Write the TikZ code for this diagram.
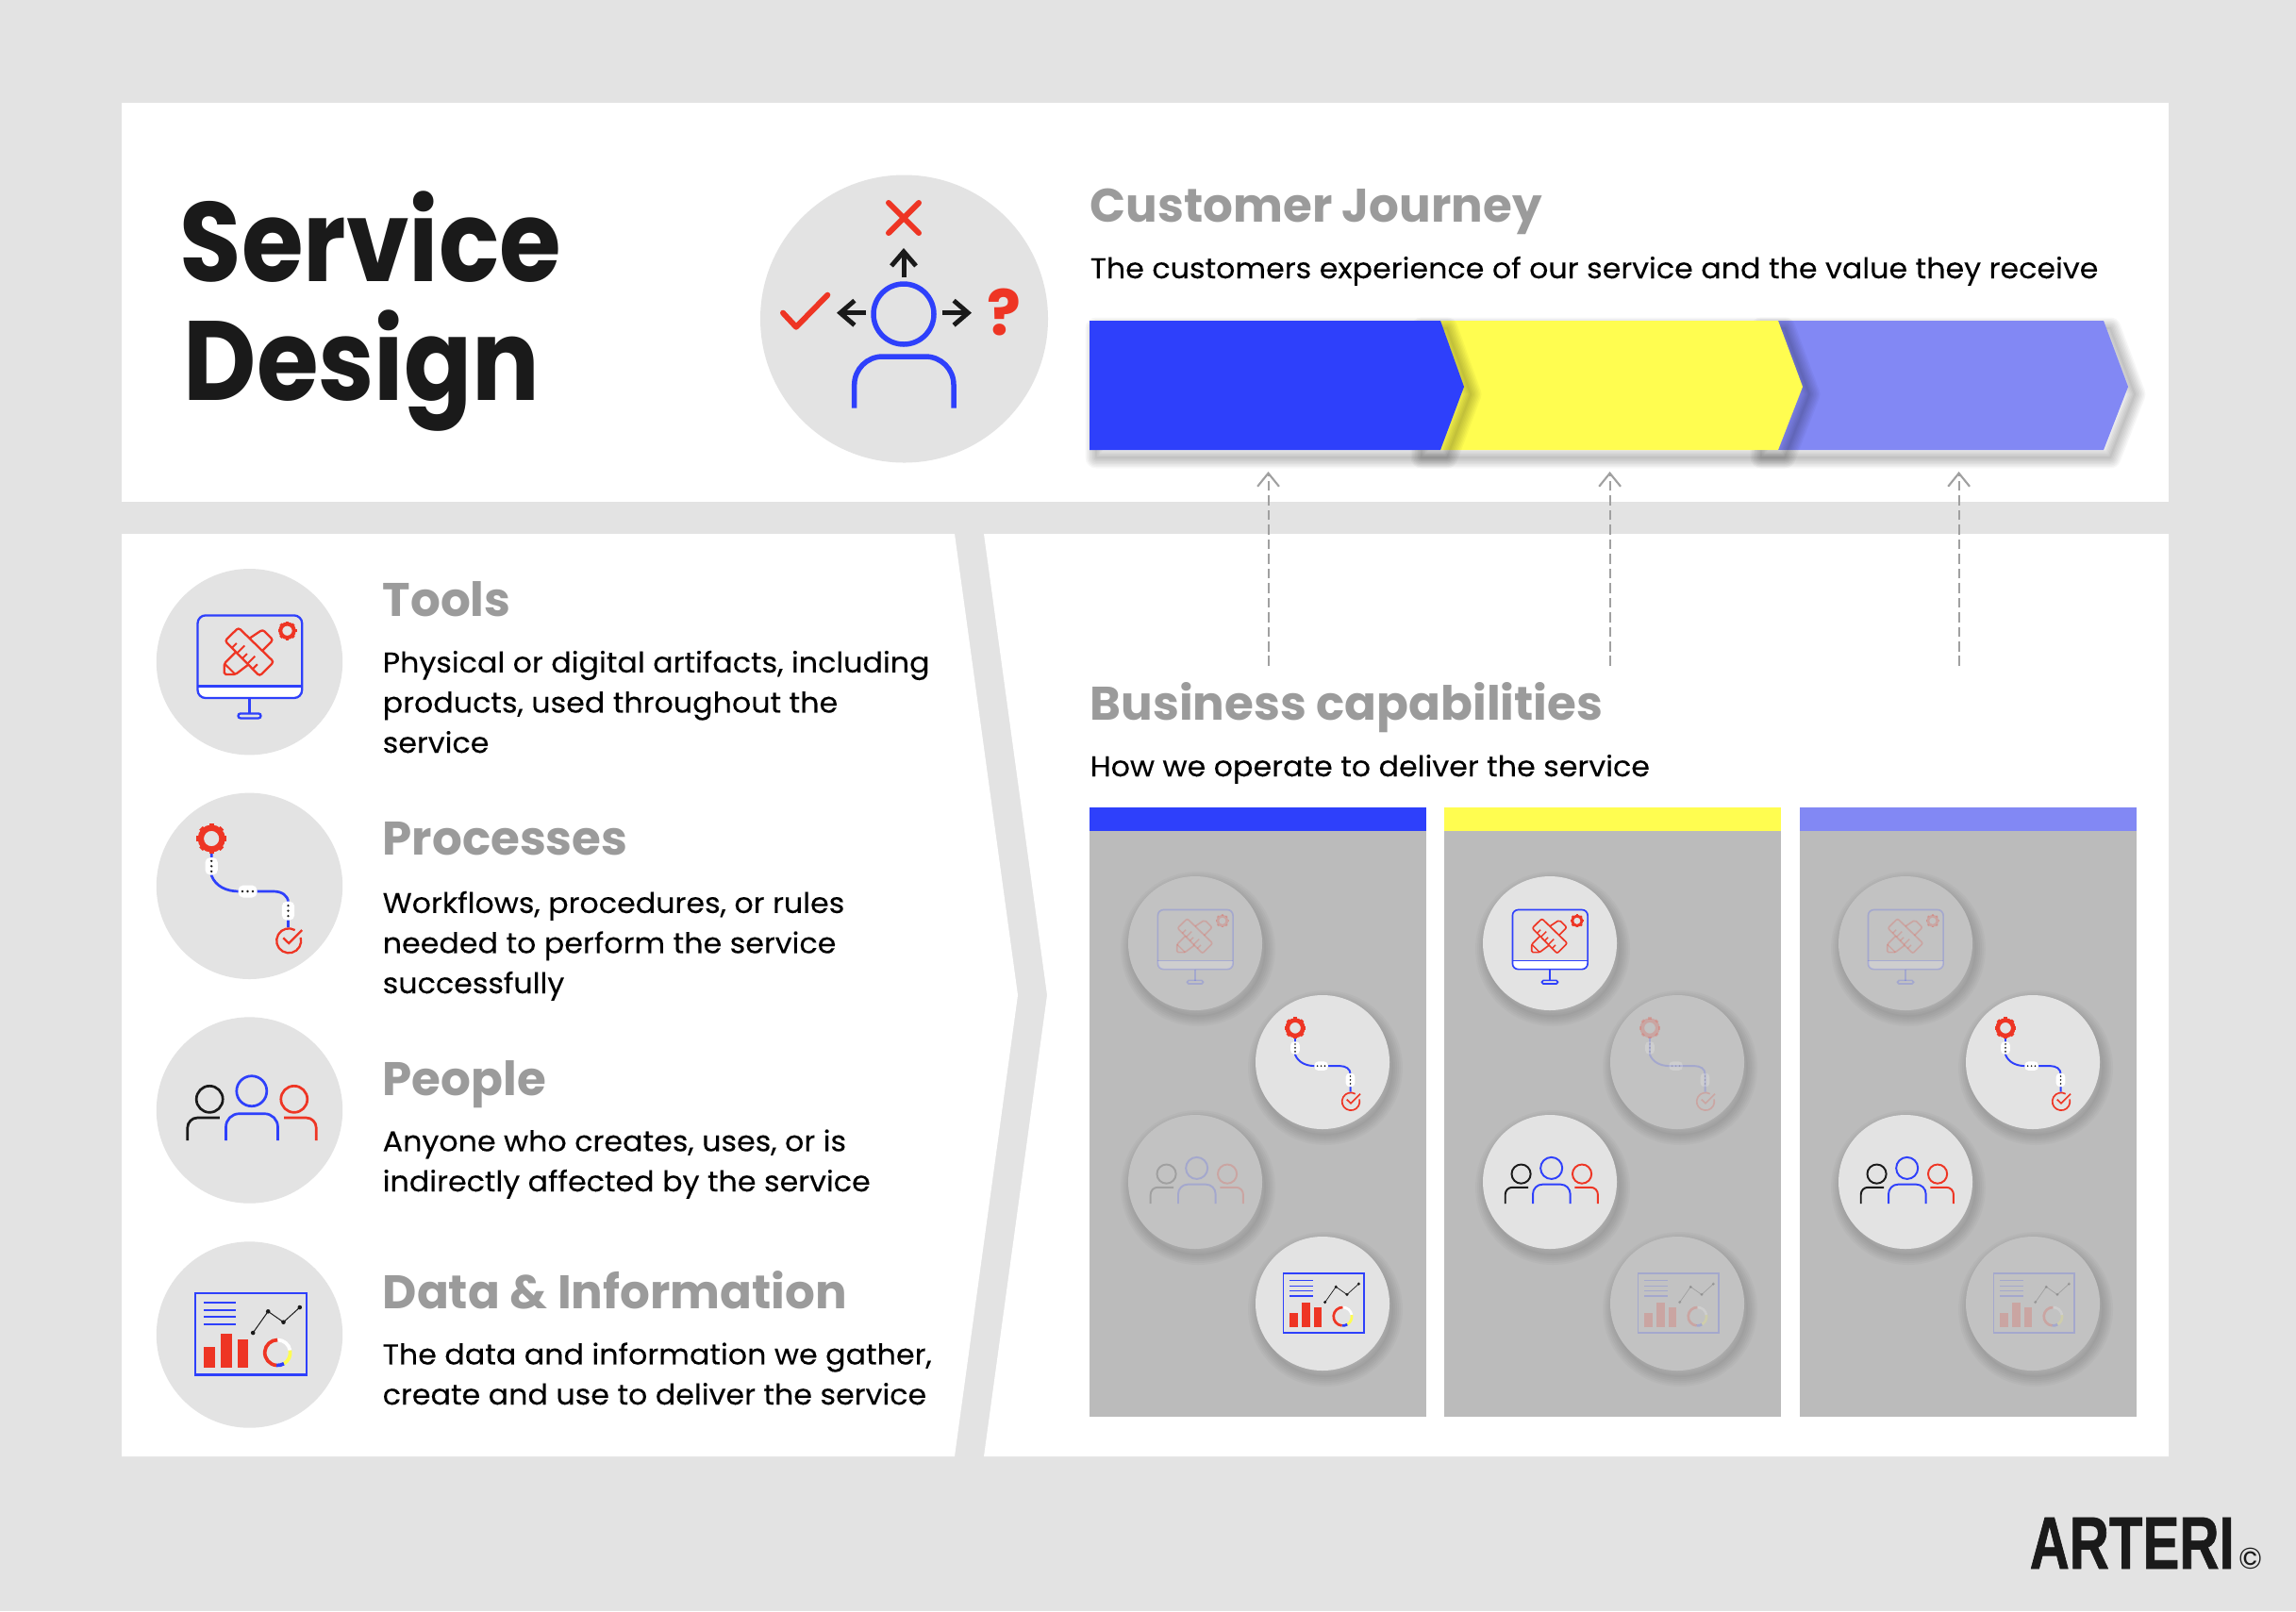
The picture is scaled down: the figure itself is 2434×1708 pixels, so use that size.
\documentclass[tikz,border=0pt]{standalone}
\usepackage{fontspec}
\usepackage{amsmath}
\usepackage{tikz}
\usetikzlibrary{arrows.meta,calc}
\setmainfont{Poppins}
\newfontfamily\bodyfont[FakeBold=0.2,FakeStretch=1.05]{Poppins}
\newfontfamily\titlefont[FakeStretch=0.89]{Poppins}
\newfontfamily\logofont[FakeStretch=0.74,FakeBold=0.8]{Liberation Sans Bold}
\definecolor{artblue}{HTML}{2E40FB}
\definecolor{artyellow}{HTML}{FFFD50}
\definecolor{artviolet}{HTML}{8288F4}
\definecolor{artred}{HTML}{EE3524}
\definecolor{artink}{HTML}{1A1A1A}
\definecolor{artback}{HTML}{E3E3E3}
\definecolor{arthead}{HTML}{9B9B9B}
\definecolor{artcolumn}{HTML}{BBBBBB}
\definecolor{artdim}{HTML}{C2C2C2}
\definecolor{artarrow}{HTML}{A0A0A0}
\def\ic{1}
\newcommand\chevronpath[3]{(#1,340)--(#2,340)--(#3,410)--(#2,477)--(#1,477)--cycle}
\newcommand\gearwheel[3]{
	\draw[artred, lw=#3*.4] (#1,#2) circle[radius=.72*#3];
	\foreach \a in {0,45,...,315}{
		\draw[artred, lw=#3*.32] ($(#1,#2)+(\a:{.8*#3})$)--($(#1,#2)+(\a:{#3})$);
	}
}
\newcommand\toolsicon{
	\fill[white] (-55,25.7)--(55.7,25.7)--(55.7,30) arc[start angle=0, end angle=90, radius=8]--(-47,38.3) arc[start angle=90, end angle=180, radius=8]--cycle;
	\draw[artblue, lw=2.3, rounded corners=\ic*2.4pt] (-55,-49.3) rectangle (55.7,38.3);
	\draw[artblue, lw=2.3] (-55,25.7)--(55.7,25.7);
	\draw[artblue, lw=2.3] (0,38.3)--(0,55);
	\draw[artblue, lw=2.3, rounded corners=\ic*.7pt] (-12,54.7) rectangle (12,59.7);
	\draw[artred, lw=2.3, rounded corners=\ic*.8pt] (-26,-22.3)--(-11.7,-36.3)--(25.7,0)--(10.7,15)--cycle;
	\foreach \t/\l in {.2/5,.35/8,.5/5,.65/8,.8/5}{
		\draw[artred, lw=2] ({-26+36.7*\t},{-22.3+37.3*\t})--++(\l,-\l);
	}
	\draw[artred, lw=2.3, rounded corners=\ic*.8pt] (0,-25)--(14,-34.3)--(25,-23.3)--(13.3,-11.6);
	\draw[artred, lw=2.3, rounded corners=\ic*.5pt] (-14.5,-10.5)--(-26.7,1.7)--(-26.7,13.3)--(-15,13.3)--(-1.2,2.9);
	\draw[artred, lw=2] (-26.7,1.7)--(-15,13.3);
	\gearwheel{40}{-33}{10}
}
\newcommand\processicon{
	\draw[artblue, lw=2.7] (-40.3,-36)--(-40.3,-11) .. controls (-36,0) and (-25,5.7) .. (-11,5.7)--(25.7,5.7) .. controls (34,5.7) and (41,10) .. (41,17.3)--(41,44);
	\gearwheel{-40.3}{-50.3}{15.8}
	\fill[white, rounded corners=\ic*1.5pt] (-47,-30.2) rectangle (-33.6,-11.8);
	\fill[white, rounded corners=\ic*1.5pt] (-12,-.8) rectangle (8,12.2);
	\fill[white, rounded corners=\ic*1.5pt] (34.3,16.3) rectangle (47.7,36.3);
	\foreach \d in {-1,0,1}{
		\fill[artink] (-40.3,{-21+\d*5.5}) circle[radius=1.3];
		\fill[artink] ({-2+\d*5.5},5.7) circle[radius=1.3];
		\fill[artink] (41,{26.3+\d*5.5}) circle[radius=1.3];
	}
	\draw[artred, lw=2.3] (41.7,58)++(-60:13) arc[start angle=-60, end angle=-375, radius=13];
	\draw[artred, lw=2.3] (35.7,55)--(41.7,60.7)--(55.7,46.7);
}
\newcommand\peopleicon{
	\draw[artink, lw=2.7] (-42.3,-11.7) circle[radius=14];
	\draw[artink, lw=2.7, rounded corners=\ic*3pt] (-65.7,32)--(-65.7,8)--(-31.7,8);
	\draw[artblue, lw=2.7] (2.3,-20.3) circle[radius=16];
	\draw[artblue, lw=2.7, rounded corners=\ic*4pt] (-25,32)--(-25,3.7)--(30,3.7)--(30,32);
	\draw[artred, lw=2.7] (47.3,-11.7) circle[radius=14];
	\draw[artred, lw=2.7, rounded corners=\ic*3pt] (36.7,8)--(70.7,8)--(70.7,32);
}
\newcommand\dataicon{
	\draw[artblue, lw=2.5] (-57.7,-44) rectangle (60.7,42.7);
	\foreach \y in {-33.7,-26,-18.7,-11}{
		\draw[artblue, lw=2] (-48.3,\y)--(-14.3,\y);
	}
	\fill[artred] (-48.3,13.3) rectangle (-36.7,35);
	\fill[artred] (-30.7,-1.3) rectangle (-18.7,35);
	\fill[artred] (-13,5.3) rectangle (-1.3,35);
	\draw[artink, lw=1] (3.7,-2)--(19.7,-24.7)--(36,-13.3)--(53.3,-29);
	\foreach \x/\y in {3.7/-2,19.7/-24.7,36/-13.3,53.3/-29}{
		\fill[artink] (\x,\y) circle[radius=2.3];
	}
	\foreach \c/\p/\q in {white/-90/-10,artyellow/-10/60,artblue/60/95,artred/95/270}{
		\draw[\c, lw=3.7] (29.7,19)++(\p:13.5) arc[start angle=\p, end angle=\q, radius=13.5];
	}
}
\tikzset{
	lw/.style={line width=\ic*#1*.2845pt},
	titletext/.style={anchor=base west, inner sep=0pt, font=\titlefont\fontsize{34}{40}\selectfont\bfseries, text=artink},
	headtext/.style={anchor=base west, inner sep=0pt, font=\fontsize{14.2}{16}\selectfont\bfseries, text=arthead},
	bodytext/.style={anchor=base west, inner sep=0pt, align=left, font=\bodyfont\fontsize{8.6}{12.1}\selectfont, text=black},
	smallhead/.style={-{Straight Barb[length=4.3pt,width=7.4pt,line width=1.4pt]}},
	discon/.style={fill=artback},
	discoff/.style={fill=artdim},
	iconon/.style={},
	iconoff/.style={opacity=.2}
}
\begin{document}
\begin{tikzpicture}[x=.01cm,y=.01cm,yscale=-1]
\useasboundingbox (0,0) rectangle (2434,1708);
\fill[artback] (0,0) rectangle (2434,1708);
\fill[white] (129,109) rectangle (2299,532);
\fill[white] (129,566)--(1012,566)--(1079,1055)--(1012,1544)--(129,1544)--cycle;
\fill[white] (1043,566)--(2299,566)--(2299,1544)--(1043,1544)--(1110,1055)--cycle;

\node[titletext] (service title) at (190,298) {Service};
\node[titletext] (design title) at (194,424) {Design};

\fill[artback] (958.5,338) circle[radius=152.5];
\draw[artblue, lw=5.5] (958,333) circle[radius=32];
\draw[artblue, lw=5.5, rounded corners=8.5pt] (905.7,432.7)--(905.7,378)--(1011,378)--(1011,432.7);
\draw[artink, lw=5, smallhead] (958,294)--(958,263);
\draw[artink, lw=5, smallhead] (918,331.7)--(887,331.7);
\draw[artink, lw=5, smallhead] (999,331.7)--(1030,331.7);
\draw[artred, lw=6, line cap=round] (942,215)--(974,247);
\draw[artred, lw=6, line cap=round] (974,215)--(942,247);
\draw[artred, lw=6, line cap=round, line join=round] (830,331.7)--(844,346.7)--(877.3,312.7);
\node[anchor=base, inner sep=0pt, text=artred, font=\fontsize{19}{19}\selectfont\bfseries] (query mark) at (1064,355) {?};

\node[headtext] (journey head) at (1155,235) {Customer Journey};
\node[bodytext] (journey text) at (1155,295) {The customers experience of our service and the value they receive};

\foreach \left/\right/\tip/\fillc in {1860/2230/2256/artviolet,1500/1885/1911/artyellow,1155/1527/1552/artblue}{
	\foreach \w in {2,5,...,23}{
		\draw[black, opacity=.033, line width=\w*.2845pt, line join=round, shift={(7,8)}] \chevronpath{\left}{\right}{\tip};
	}
	\fill[\fillc] \chevronpath{\left}{\right}{\tip};
}

\foreach \name/\x in {blue/1344.5,yellow/1706.6,violet/2076.6}{
	\coordinate (\name foot) at (\x,706);
	\coordinate (\name tip) at (\x,500);
	\draw[artarrow, lw=2, dash pattern=on 3pt off 1.4pt, -{Straight Barb[length=4pt,width=6.5pt,line width=.6pt]}] (\name foot)--(\name tip);
}

\node[headtext] (capability head) at (1155,763) {Business capabilities};
\node[bodytext] (capability text) at (1155,823) {How we operate to deliver the service};

\foreach \y/\iconname in {701.7/toolsicon,939.3/processicon,1177/peopleicon,1415/dataicon}{
	\begin{scope}[shift={(264.5,\y)}]
	\fill[artback] (0,0) circle[radius=98.7];
	\csname\iconname\endcsname
	\end{scope}
}

\node[headtext] (tools head) at (405,653) {Tools};
\node[bodytext] (tools text) at (405,798) {Physical or digital artifacts, including\\products, used throughout the\\service};
\node[headtext] (process head) at (405,906) {Processes};
\node[bodytext] (process text) at (405,1053) {Workflows, procedures, or rules\\needed to perform the service\\successfully};
\node[headtext] (people head) at (405,1161) {People};
\node[bodytext] (people text) at (405,1263) {Anyone who creates, uses, or is\\indirectly affected by the service};
\node[headtext] (data head) at (405,1387) {Data \& Information};
\node[bodytext] (data text) at (405,1489) {The data and information we gather,\\create and use to deliver the service};

\foreach \colname/\colx/\cola/\colb/\colc/\cold/\fillc in {a/1155/off/on/off/on/artblue,b/1531/on/off/on/off/artyellow,c/1908/off/on/on/off/artviolet}{
	\fill[artcolumn] (\colx,881) rectangle ++(357,621);
	\fill[\fillc] (\colx,856) rectangle ++(357,25);
	\foreach \dx/\dy/\state/\iconname in {112/1000/\cola/toolsicon,247/1126/\colb/processicon,112/1253/\colc/peopleicon,247/1382/\cold/dataicon}{
		\begin{scope}[shift={(\colx+\dx,\dy)}]
		\foreach \w in {2,6,...,22}{
			\draw[black, opacity=.022, line width=\w*.2845pt, shift={(3,6)}] (0,0) circle[radius=71];
		}
		\fill[disc\state] (0,0) circle[radius=71];
		\def\ic{.72}
		\begin{scope}[scale=.72, icon\state]
		\csname\iconname\endcsname
		\end{scope}
		\end{scope}
	}
}

\node[anchor=base west, inner sep=0pt, text=artink, font=\logofont\fontsize{22.4}{24}\selectfont] (logo) at (2151,1663) {ARTERI};
\node[anchor=center, inner sep=0pt, text=artink, font=\fontsize{9}{9}\selectfont] (logo mark) at (2386,1652) {©};
\end{tikzpicture}
\end{document}
